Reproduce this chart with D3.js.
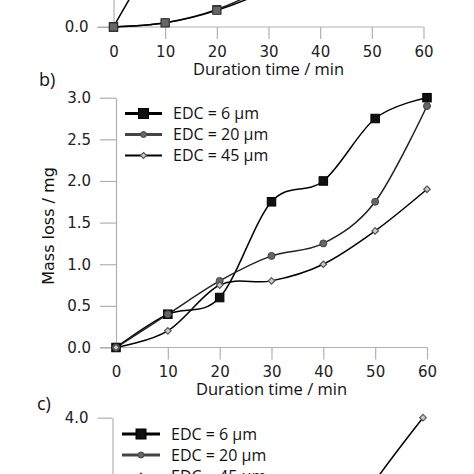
<!DOCTYPE html>
<html>
<head>
<meta charset="utf-8">
<script src="https://cdn.jsdelivr.net/npm/d3@7"></script>
<style>
  html, body { margin: 0; padding: 0; background: #fff; }
  svg { display: block; }
</style>
</head>
<body>
<svg id="chart" width="474" height="474"></svg>
<script>
// данные
const durations = [0, 10, 20, 30, 40, 50, 60];
const seriesNames = ["EDC = 6 \u03bcm", "EDC = 20 \u03bcm", "EDC = 45 \u03bcm"];
const xTicks = [0, 10, 20, 30, 40, 50, 60];

// панель a (видна только нижняя часть)
const lossA6 = [0, 1.0, 1.5, 1.9, 2.2, 2.4, 2.6];
const lossA20 = [0, 0.05, 0.21, 0.5, 0.9, 1.3, 1.7];
const lossA45 = [0, 0.05, 0.2, 0.45, 0.8, 1.2, 1.6];
const yTicksA = [0];

// панель b
const lossB6 = [0, 0.4, 0.6, 1.75, 2.0, 2.75, 3.0];
const lossB20 = [0, 0.4, 0.8, 1.1, 1.25, 1.75, 2.9];
const lossB45 = [0, 0.2, 0.75, 0.8, 1.0, 1.4, 1.9];
const yTicksB = [0, 0.5, 1.0, 1.5, 2.0, 2.5, 3.0];

// панель c (видна только верхняя часть)
const lossC6 = [0, 0.3, 0.6, 0.9, 1.3, 1.8, 2.4];
const lossC20 = [0, 0.2, 0.5, 0.8, 1.2, 1.7, 2.3];
const lossC45 = [0, 0.2, 0.4, 0.9, 1.6, 2.9, 4.0];
const yTicksC = [4.0];

const H = 474;
const svg = d3.select("#chart");
const axisColor = "#b0b0b0";
const tickFont = "'DejaVu Sans', sans-serif";
const textFont = "'Open Sans', sans-serif";

// стили серий: маркер, цвет линии
const styles = [
  {marker: "square", size: 8.5, fill: "#111", stroke: "#000", line: "#000", legendWidth: 3},
  {marker: "circle", size: 7, fill: "#666", stroke: "#444", line: "#222", legendWidth: 3},
  {marker: "diamond", size: 6.5, fill: "#ccc", stroke: "#555", line: "#000", legendWidth: 2.2}
];

function drawMarker(g, style, x, y, override) {
  const s = Object.assign({}, style, override || {});
  if (s.marker === "square") {
    g.append("rect")
      .attr("x", x - s.size / 2).attr("y", y - s.size / 2)
      .attr("width", s.size).attr("height", s.size)
      .attr("fill", s.fill).attr("stroke", s.stroke).attr("stroke-width", 1);
  } else if (s.marker === "circle") {
    g.append("circle")
      .attr("cx", x).attr("cy", y).attr("r", s.size / 2)
      .attr("fill", s.fill).attr("stroke", s.stroke).attr("stroke-width", 1);
  } else {
    const h = s.size / 2;
    g.append("path")
      .attr("d", `M${x},${y - h}L${x + h},${y}L${x},${y + h}L${x - h},${y}Z`)
      .attr("fill", s.fill).attr("stroke", s.stroke).attr("stroke-width", 1.2);
  }
}

function drawPanel(p) {
  const g = svg.append("g");
  const x = d3.scaleLinear().domain([0, 60]).range(p.xRange);
  const y = d3.scaleLinear().domain(p.yDomain).range(p.yRange);
  const y0 = y(0);

  // ось Y
  const yAxis = d3.axisLeft(y).tickValues(p.yTicks).tickFormat(d3.format(".1f"))
    .tickSize(p.yTickLen).tickSizeOuter(0).tickPadding(9);
  const ya = g.append("g").attr("transform", `translate(${p.xRange[0]},0)`).call(yAxis);
  ya.select(".domain").attr("stroke", axisColor).attr("stroke-width", 1.2);
  ya.selectAll(".tick line").attr("stroke", axisColor).attr("stroke-width", 1.2);
  ya.selectAll(".tick text").attr("fill", "#222")
    .style("font-family", tickFont).style("font-size", "15px");

  // ось X (только если она попадает в кадр)
  if (y0 < H) {
    const xAxis = d3.axisBottom(x).tickValues(xTicks).tickSize(12).tickSizeOuter(0).tickPadding(7);
    const xa = g.append("g").attr("transform", `translate(0,${y0})`).call(xAxis);
    xa.select(".domain").remove();
    xa.append("line")
      .attr("x1", p.xRange[0] - p.yTickLen).attr("x2", p.xRange[1])
      .attr("stroke", axisColor).attr("stroke-width", 1.2);
    xa.selectAll(".tick line").attr("stroke", axisColor).attr("stroke-width", 1.2)
      .attr("opacity", d => d === 0 ? 0 : 1);
    xa.selectAll(".tick text").attr("fill", "#222")
      .style("font-family", tickFont).style("font-size", "15px");

    g.append("text")
      .attr("x", (p.xRange[0] + p.xRange[1]) / 2).attr("y", y0 + 47.5)
      .attr("text-anchor", "middle")
      .style("font-family", textFont).style("font-size", "16.5px").attr("fill", "#111")
      .text("Duration time / min");
  }

  if (p.yLabel) {
    g.append("text")
      .attr("transform", `translate(${p.yLabelX},${p.yLabelY}) rotate(-90)`)
      .attr("text-anchor", "middle")
      .style("font-family", tickFont).style("font-size", "16px").attr("fill", "#111")
      .text(p.yLabel);
  }

  if (p.tag) {
    g.append("text").attr("x", p.tag.x).attr("y", p.tag.y)
      .style("font-family", textFont).style("font-size", "18px").attr("fill", "#111")
      .text(p.tag.text);
  }

  // кривые со сглаживанием
  const line = d3.line()
    .x((d, i) => x(durations[i]))
    .y(d => y(d))
    .curve(d3.curveCardinal.tension(0));

  p.series.forEach((vals, k) => {
    g.append("path").datum(vals)
      .attr("d", line)
      .attr("fill", "none")
      .attr("stroke", styles[k].line)
      .attr("stroke-width", 1.5);
  });
  p.series.forEach((vals, k) => {
    const mg = g.append("g");
    vals.forEach((v, i) => drawMarker(mg, styles[k], x(durations[i]), y(v), p.markerOverride && p.markerOverride[k]));
  });

  // легенда
  if (p.legend) {
    const L = p.legend;
    seriesNames.forEach((name, k) => {
      const ly = L.y + k * L.step;
      g.append("line")
        .attr("x1", L.x1).attr("x2", L.x2).attr("y1", ly).attr("y2", ly)
        .attr("stroke", k === 1 ? "#444" : "#000").attr("stroke-width", styles[k].legendWidth);
      drawMarker(g, styles[k], (L.x1 + L.x2) / 2, ly,
        k === 0 ? {size: 10} : {size: 6});
      g.append("text")
        .attr("x", L.tx).attr("y", ly + 5.5)
        .style("font-family", textFont).style("font-size", "16px").attr("fill", "#111")
        .text(name);
    });
  }
}

// панель a
drawPanel({
  xRange: [113.5, 423.5],
  yDomain: [0, 3], yRange: [27, 27 - 3 * 83.2],
  yTicks: yTicksA, yTickLen: 16,
  series: [lossA6, lossA20, lossA45],
  markerOverride: [null, {marker: "square", size: 8, fill: "#666", stroke: "#333"}, {marker: "square", size: 8, fill: "#666", stroke: "#333"}]
});

// панель b
drawPanel({
  xRange: [116, 427],
  yDomain: [0, 3], yRange: [347.5, 97.7],
  yTicks: yTicksB, yTickLen: 16,
  series: [lossB6, lossB20, lossB45],
  yLabel: "Mass loss / mg", yLabelX: 54, yLabelY: 226,
  tag: {text: "b)", x: 39, y: 86},
  legend: {x1: 125, x2: 162, tx: 173, y: 113.5, step: 21}
});

// панель c
drawPanel({
  xRange: [112.5, 423],
  yDomain: [0, 4], yRange: [417.7 + 4 * 62.5, 417.7],
  yTicks: yTicksC, yTickLen: 15,
  series: [lossC6, lossC20, lossC45],
  tag: {text: "c)", x: 37, y: 410},
  legend: {x1: 122, x2: 160, tx: 171, y: 434, step: 21}
});
</script>
</body>
</html>
